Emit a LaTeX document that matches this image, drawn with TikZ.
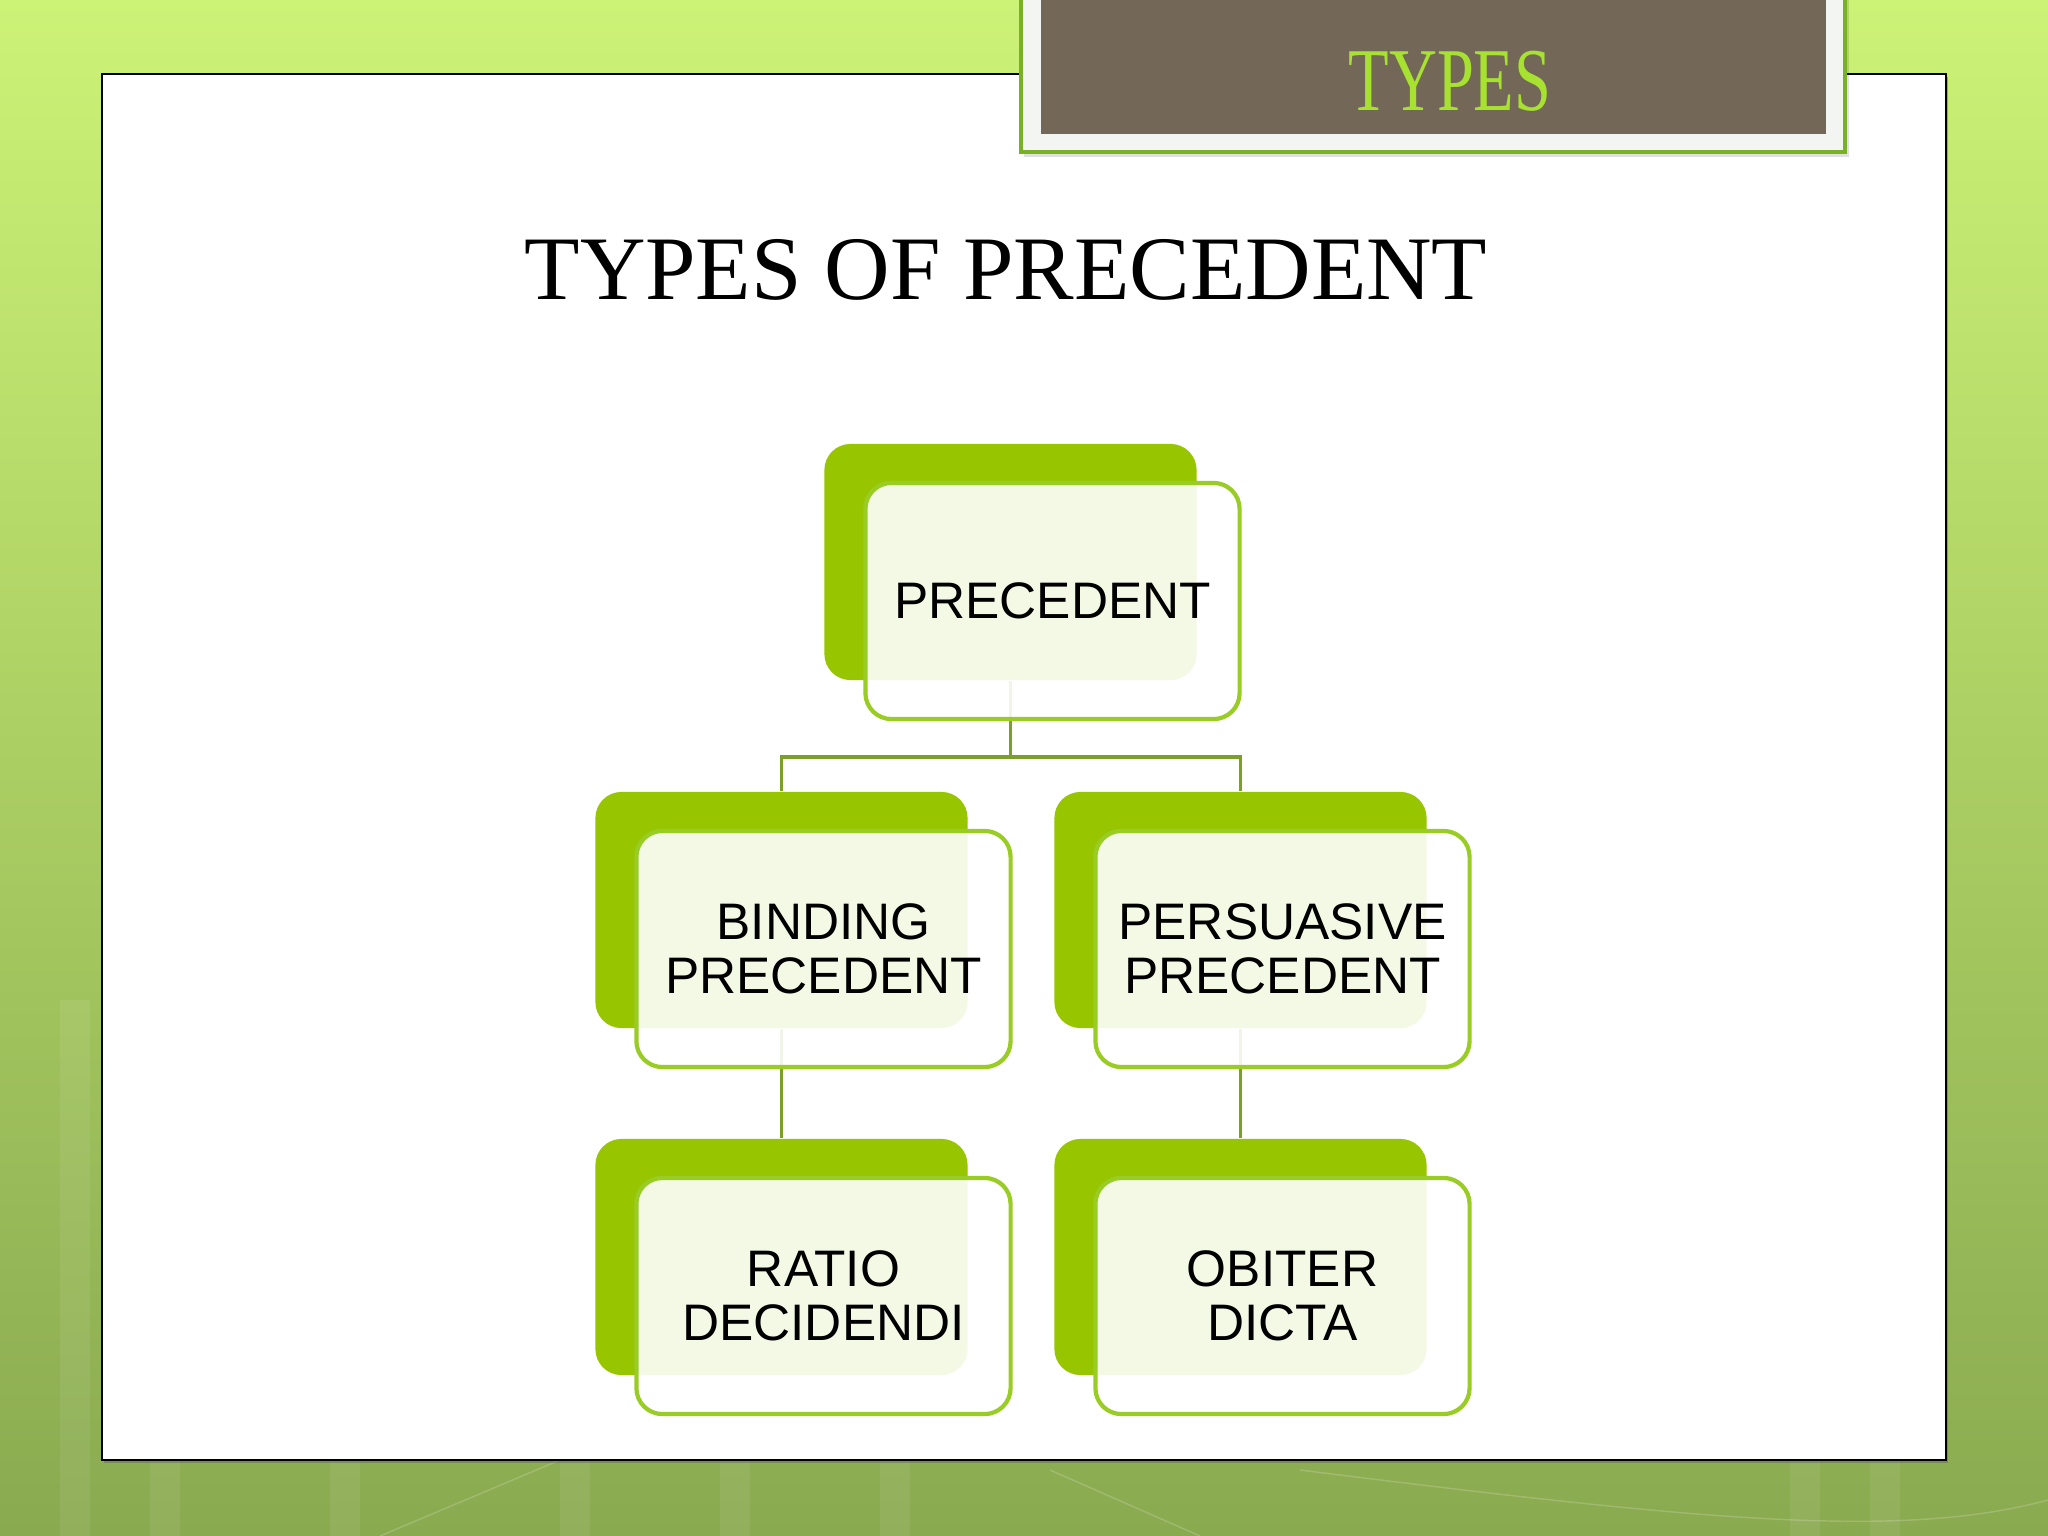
\documentclass[tikz,border=0pt]{standalone}
\usepackage{fontspec}
\setmainfont{Liberation Serif}
\newfontfamily\boxfont{Liberation Sans}
\newfontfamily\tabfont[FakeStretch=0.74]{Liberation Serif}
\definecolor{leaf}{RGB}{151,198,0}
\definecolor{leafline}{RGB}{154,204,38}
\definecolor{stem}{RGB}{122,160,40}
\definecolor{bark}{RGB}{115,104,87}
\definecolor{lime}{RGB}{168,226,48}
\definecolor{tabline}{RGB}{120,178,36}
\definecolor{tabwhite}{RGB}{243,245,242}
\definecolor{bgtop}{RGB}{204,242,118}
\definecolor{bgmid}{RGB}{170,208,92}
\definecolor{bgbot}{RGB}{138,170,80}
\begin{document}
\begin{tikzpicture}[x=0.01cm,y=-0.01cm]
		    	\tikzstyle{backbox}=[rectangle,rounded corners=0.26cm,fill=leaf,minimum width=3.72cm,minimum height=2.36cm,inner sep=0pt]
		        \tikzstyle{frontbox}=[backbox,minimum width=3.74cm,fill=white,fill opacity=0.9,text opacity=1,draw=leafline,line width=1.2pt,align=center,font=\boxfont\fontsize{14.6}{15.4}\selectfont]
		        \tikzstyle{conn}=[draw=stem,line width=1pt]
		        \useasboundingbox (0,0) rectangle (2048,1536);
		        % background
		        \shade[top color=bgtop,middle color=bgmid,bottom color=bgbot] (0,0) rectangle (2048,1536);
		        \foreach \x in {60,150,330,560,720,880,1790,1870} {
			        \fill[white,opacity=0.07] (\x,1000) rectangle (\x+30,1536);
		        }
		        \draw[white,opacity=0.18] (380,1536) -- (560,1460) (1050,1470) -- (1200,1536) (1300,1470) .. controls (1700,1520) and (1900,1540) .. (2048,1500);
		        % slide panel
		        \fill[black!60,opacity=0.5] (104,77) rectangle (1948,1463);
		        \draw[black,line width=0.5pt,fill=white] (102,74) rectangle (1946,1460);
		        % tab
		        \fill[black,opacity=0.12] (1024,0) rectangle (1849,157);
		        \draw[tabline,line width=1pt,fill=tabwhite] (1021,-5) rectangle (1845,152);
		        \fill[bark] (1041,-5) rectangle (1826,134);
		        \node[inner sep=0pt,text=lime,font=\tabfont\fontsize{25.5}{28}\selectfont] (tab) at (1450,81) {TYPES};
		        \node[inner sep=0pt,font=\fontsize{25.8}{31}\selectfont] (title) at (1006,270) {TYPES OF PRECEDENT};
		        \begin{scope}
			        \node [backbox] (prec-b) at (1010.5,562) {};
			        \node [backbox] (bind-b) at (781.5,910) {};
			        \node [backbox] (pers-b) at (1240.5,910) {};
			        \node [backbox] (ratio-b) at (781.5,1257) {};
			        \node [backbox] (obit-b) at (1240.5,1257) {};
			        \path[conn] (prec-b.south) -- ++(0,76) -| (bind-b.north);
			        \path[conn] (prec-b.south) -- ++(0,76) -| (pers-b.north);
			        \path[conn] (bind-b.south) -- (ratio-b.north);
			        \path[conn] (pers-b.south) -- (obit-b.north);
			        \node [frontbox] (prec) at (1052.5,601) {PRECEDENT};
			        \node [frontbox] (bind) at (823.5,949) {BINDING\\PRECEDENT};
			        \node [frontbox] (pers) at (1282.5,949) {PERSUASIVE\\PRECEDENT};
			        \node [frontbox] (ratio) at (823.5,1296) {RATIO\\DECIDENDI};
			        \node [frontbox] (obit) at (1282.5,1296) {OBITER\\DICTA};
		        \end{scope}
		    \end{tikzpicture}
\end{document}
